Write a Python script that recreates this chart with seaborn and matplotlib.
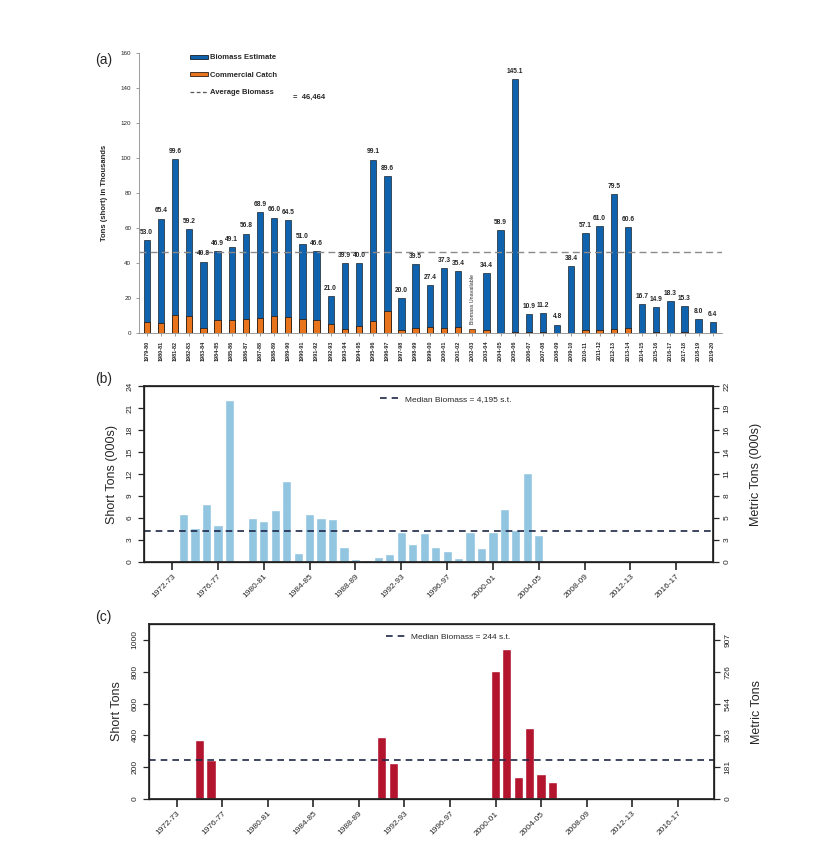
import numpy as np
import pandas as pd
import seaborn as sns
import matplotlib.pyplot as plt
from matplotlib.patches import Patch
from matplotlib.lines import Line2D

sns.set_theme(style="ticks")
plt.rcParams['font.family'] = ['Liberation Sans', 'DejaVu Sans']

# %%
# (a) survey biomass estimate and commercial catch, thousands of short tons
seasons = ["1979-80", "1980-81", "1981-82", "1982-83", "1983-84", "1984-85", "1985-86",
           "1986-87", "1987-88", "1988-89", "1989-90", "1990-91", "1991-92", "1992-93",
           "1993-94", "1994-95", "1995-96", "1996-97", "1997-98", "1998-99", "1999-00",
           "2000-01", "2001-02", "2002-03", "2003-04", "2004-05", "2005-06", "2006-07",
           "2007-08", "2008-09", "2009-10", "2010-11", "2011-12", "2012-13", "2013-14",
           "2014-15", "2015-16", "2016-17", "2017-18", "2018-19", "2019-20"]
biomass = [53.0, 65.4, 99.6, 59.2, 40.8, 46.9, 49.1, 56.8, 68.9, 66.0, 64.5, 51.0, 46.6,
           21.0, 39.9, 40.0, 99.1, 89.6, 20.0, 39.5, 27.4, 37.3, 35.4, np.nan, 34.4, 58.9,
           145.1, 10.9, 11.2, 4.8, 38.4, 57.1, 61.0, 79.5, 60.6, 16.7, 14.9, 18.3, 15.3,
           8.0, 6.4]
catch = [6.3, 5.6, 10.1, 9.5, 2.7, 7.4, 7.2, 7.8, 8.6, 9.7, 9.1, 7.8, 7.6,
         5.1, 2.1, 4.2, 6.7, 12.4, 1.9, 2.7, 3.2, 2.9, 3.2, 2.3, 1.5, 0.2,
         0.8, 0.4, 0.4, 0.2, 0.1, 1.7, 1.7, 2.3, 3.0, 0.2, 0.6, 0.2, 0.4,
         0.1, 0.1]
avg_biomass = 46.464

# (b) short tons (000s) by season start year
b_years = [1973, 1974, 1975, 1976, 1977, 1979, 1980, 1981, 1982, 1983, 1984, 1985, 1986,
           1987, 1988, 1989, 1990, 1991, 1992, 1993, 1994, 1995, 1996, 1997, 1998, 1999,
           2000, 2001, 2002, 2003, 2004]
b_values = [6.5, 4.7, 7.9, 5.1, 22.1, 6.0, 5.55, 7.1, 11.05, 1.2, 6.55, 5.95, 5.8,
            2.05, 0.35, 0.25, 0.75, 1.15, 4.1, 2.5, 3.95, 2.1, 1.45, 0.55, 4.15, 1.95,
            4.15, 7.2, 4.3, 12.1, 3.7]
b_median = 4.195

# (c) short tons by season start year
c_years = [1974, 1975, 1990, 1991, 2000, 2001, 2002, 2003, 2004, 2005, 2006]
c_values = [370, 243, 389, 224, 806, 946, 138, 445, 157, 109, 6]
c_median = 244

tick_years = [1972, 1976, 1980, 1984, 1988, 1992, 1996, 2000, 2004, 2008, 2012, 2016]
tick_labels = ["1972-73", "1976-77", "1980-81", "1984-85", "1988-89", "1992-93",
               "1996-97", "2000-01", "2004-05", "2008-09", "2012-13", "2016-17"]

b_left_ticks = [0, 3, 6, 9, 12, 15, 18, 21, 24]
b_right_labels = ["0", "3", "5", "8", "11", "14", "16", "19", "22"]
c_left_ticks = [0, 200, 400, 600, 800, 1000]
c_right_labels = ["0", "181", "363", "544", "726", "907"]

BLUE = "#0F63AE"
ORANGE = "#E8741E"
LIGHT = "#92C5E0"
RED = "#B3152E"
NAVY = "#1E2847"

W, H = 816, 864
fig = plt.figure(figsize=(W / 100, H / 100), dpi=100)


def box(l, t, r, b):
    return [l / W, 1 - b / H, (r - l) / W, (b - t) / H]


# %%
# Panel (a)
ax_a = fig.add_axes(box(139, 53, 722, 333))
df_a = pd.DataFrame({"season": seasons, "biomass": biomass, "catch": catch})

sns.barplot(data=df_a.dropna(subset=["biomass"]), x="season", y="biomass", order=seasons,
            color=BLUE, saturation=1, width=0.45, edgecolor="black", linewidth=0.4,
            errorbar=None, ax=ax_a)
ax_a.bar_label(ax_a.containers[0], fmt="%.1f", fontsize=4.8, fontweight="bold", padding=3)
sns.barplot(data=df_a, x="season", y="catch", order=seasons,
            color=ORANGE, saturation=1, width=0.45, edgecolor="black", linewidth=0.4,
            errorbar=None, ax=ax_a)

i_na = seasons.index("2002-03")
ax_a.text(i_na, catch[i_na] + 3, "Biomass Unavailable", rotation=90, fontsize=3.8,
          ha="center", va="bottom")

ax_a.axhline(avg_biomass, color="#8a8a8a", ls=(0, (5, 3)), lw=1)
ax_a.set_xlim(-0.55, 40.65)
ax_a.set_ylim(0, 160)
ax_a.set_yticks(range(0, 161, 20))
ax_a.set_xlabel("")
ax_a.set_ylabel("Tons (short) in Thousands", fontsize=5.5, fontweight="bold", labelpad=9)
ax_a.tick_params(axis="y", labelsize=4.5, length=2, width=0.5, color="#777777")
ax_a.tick_params(axis="x", labelsize=4, rotation=90, length=2, width=0.5, color="#777777")
for lab in ax_a.get_xticklabels():
    lab.set_fontweight("bold")
sns.despine(ax=ax_a)
for s in ["left", "bottom"]:
    ax_a.spines[s].set_color("#8a8a8a")
    ax_a.spines[s].set_linewidth(0.6)

handles = [Patch(facecolor=BLUE, edgecolor="black", linewidth=0.5),
           Patch(facecolor=ORANGE, edgecolor="black", linewidth=0.5),
           Line2D([0], [0], color="#555555", ls=(0, (3, 2)), lw=0.9)]
ax_a.legend(handles, ["Biomass Estimate", "Commercial Catch", "Average Biomass"],
            loc="upper left", bbox_to_anchor=(0.087, 0.995), frameon=False,
            prop=dict(size=5.5, weight="bold"), handlelength=2.4, handleheight=0.5,
            handletextpad=0.2, labelspacing=1.35, borderpad=0, borderaxespad=0)
ax_a.text(0.265, 0.843, "=  46,464", transform=ax_a.transAxes, fontsize=5.5,
          fontweight="bold", va="center")
fig.text(95 / W, 1 - 60 / H, "(a)", fontsize=10, va="center")


# %%
# Panels (b) and (c)
def lower_panel(rect, years, values, color, median, ymax, lticks, rlabels,
                lname, rname, legend_text):
    ax = fig.add_axes(rect)
    sns.barplot(x=years, y=values, native_scale=True, color=color, saturation=1,
                width=0.8, errorbar=None, ax=ax)
    ax.axhline(median, color=NAVY, ls=(0, (4, 3)), lw=1.2)
    ax.set_xlim(1969.55, 2019.2)
    ax.set_ylim(0, ymax)
    ax.set_xticks(tick_years)
    ax.set_xticklabels(tick_labels, rotation=45, ha="right", rotation_mode="anchor",
                       fontsize=6)
    ax.set_yticks(lticks)
    ax.tick_params(axis="y", labelsize=6, labelrotation=90, length=4, width=0.9)
    ax.tick_params(axis="x", length=6, width=1.2, pad=2)
    for lab in ax.get_yticklabels():
        lab.set_va("center")
    ax.set_ylabel(lname, fontsize=9, labelpad=6)
    for s in ax.spines.values():
        s.set_linewidth(0.9)
        s.set_color("black")

    ax2 = ax.twinx()
    ax2.set_ylim(0, ymax)
    ax2.set_yticks(lticks)
    ax2.set_yticklabels(rlabels)
    ax2.tick_params(axis="y", labelsize=6, labelrotation=90, length=4, width=0.9)
    for lab in ax2.get_yticklabels():
        lab.set_va("center")
    ax2.set_ylabel(rname, fontsize=9, labelpad=14)
    ax.legend([Line2D([0], [0], color=NAVY, ls=(0, (4, 3)), lw=1.2)], [legend_text],
              loc="upper center", bbox_to_anchor=(0.53, 0.99), frameon=False,
              fontsize=6, handlelength=2.2)
    return ax


lower_panel(box(144, 386, 713, 562), b_years, b_values, LIGHT, b_median, 24,
            b_left_ticks, b_right_labels, "Short Tons (000s)", "Metric Tons (000s)",
            "Median Biomass = 4,195 s.t.")
fig.text(95 / W, 1 - 379 / H, "(b)", fontsize=10, va="center")

lower_panel(box(149, 624, 714, 799), c_years, c_values, RED, c_median, 1100,
            c_left_ticks, c_right_labels, "Short Tons", "Metric Tons",
            "Median Biomass = 244 s.t.")
fig.text(95 / W, 1 - 617 / H, "(c)", fontsize=10, va="center")

plt.savefig("out.png", dpi=100)
